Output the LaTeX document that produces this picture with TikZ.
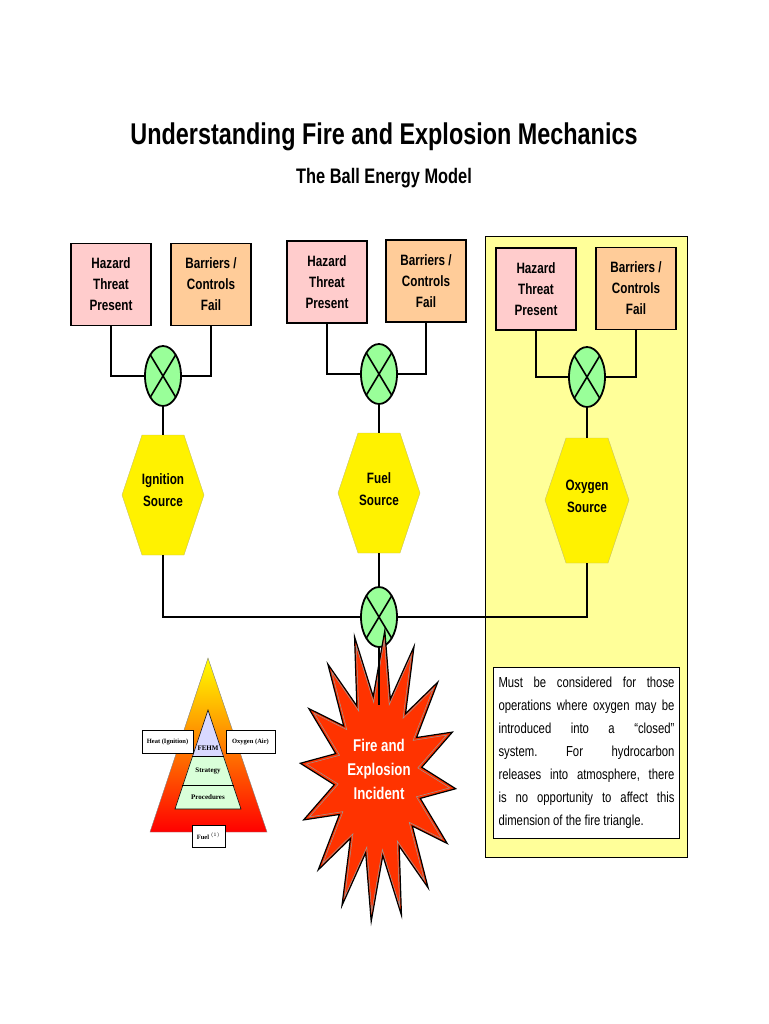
\documentclass[tikz,border=0pt]{standalone}
\usepackage{fontspec}
\setmainfont{Liberation Sans}
\newfontfamily\nar{Liberation Sans}[FakeStretch=0.78]
\newfontfamily\serifsmall{Liberation Serif}
\usetikzlibrary{shapes.geometric}
\definecolor{haz}{HTML}{FFCCCC}
\definecolor{bar}{HTML}{FFCC99}
\definecolor{gate}{HTML}{99FF99}
\definecolor{panel}{HTML}{FFFF99}
\definecolor{fire}{HTML}{FF3300}
\newcommand{\jl}[1]{\hbox to 176pt{#1}}
\begin{document}
\begin{tikzpicture}[x=1pt,y=-1pt,
  box/.style={draw,line width=1.6pt,minimum width=80pt,minimum height=82pt,align=center,font=\nar\bfseries\fontsize{15}{21}\selectfont,inner sep=1pt},
  hz/.style={box,fill=haz},
  br/.style={box,fill=bar},
  gt/.style={draw,line width=1.8pt,fill=gate,ellipse,minimum width=36pt,minimum height=60pt,inner sep=0pt,
    path picture={\draw[line width=1.6pt] (path picture bounding box.north west)--(path picture bounding box.south east) (path picture bounding box.north east)--(path picture bounding box.south west);}},
  ht/.style={font=\nar\bfseries\fontsize{15}{22}\selectfont,align=center},
  hexs/.style={draw=gray!50!yellow,fill=yellow},
  wire/.style={line width=1.6pt},
  lbl/.style={draw,fill=white,font=\serifsmall\bfseries\fontsize{6.5}{7}\selectfont,inner sep=1.5pt},
  tri/.style={font=\serifsmall\bfseries\fontsize{7}{8}\selectfont}
]
\useasboundingbox (0,0) rectangle (768,1024);
\node[font=\nar\bfseries\fontsize{30}{36}\selectfont] (title) at (384,137) {Understanding Fire and Explosion Mechanics};
\node[font=\nar\bfseries\fontsize{21}{26}\selectfont] (sub) at (384,178) {The Ball Energy Model};
\node[draw,fill=panel,minimum width=202pt,minimum height=621pt,inner sep=0pt] (panel) at (586,546.5) {};
% boxes
\node[hz] (h1) at (111,284.5) {Hazard\\Threat\\Present};
\node[br] (b1) at (211,284.5) {Barriers /\\Controls\\Fail};
\node[hz] (h2) at (327,282) {Hazard\\Threat\\Present};
\node[br] (b2) at (426,281) {Barriers /\\Controls\\Fail};
\node[hz] (h3) at (536,289) {Hazard\\Threat\\Present};
\node[br] (b3) at (636,288.5) {Barriers /\\Controls\\Fail};
% gates
\node[gt] (g1) at (163,376) {};
\node[gt] (g2) at (379,374) {};
\node[gt] (g3) at (587,377) {};
\node[gt] (g4) at (379,617) {};
% hexagons
\draw[hexs] (122,495) -- (142,435) -- (184,435) -- (204,495) -- (184,555) -- (142,555) -- cycle;
\node[ht] (s1) at (163,490) {Ignition\\Source};
\draw[hexs] (338,493) -- (358,433) -- (400,433) -- (420,493) -- (400,553) -- (358,553) -- cycle;
\node[ht] (s2) at (379,489) {Fuel\\Source};
\draw[hexs] (545,500) -- (566,438) -- (608,438) -- (629,500) -- (608,563) -- (566,563) -- cycle;
\node[ht] (s3) at (587,496) {Oxygen\\Source};
\coordinate (s1t) at (163,435); \coordinate (s1b) at (163,555);
\coordinate (s2t) at (379,433); \coordinate (s2b) at (379,553);
\coordinate (s3t) at (587,438); \coordinate (s3b) at (587,563);
% wires
\draw[wire] (h1.south) |- (g1.west);
\draw[wire] (b1.south) |- (g1.east);
\draw[wire] (h2.south) |- (g2.west);
\draw[wire] (b2.south) |- (g2.east);
\draw[wire] (h3.south) |- (g3.west);
\draw[wire] (b3.south) |- (g3.east);
\draw[wire] (g1.south) -- (s1t);
\draw[wire] (g2.south) -- (s2t);
\draw[wire] (g3.south) -- (s3t);
\draw[wire] (s1b) |- (g4.west);
\draw[wire] (s2b) -- (g4.north);
\draw[wire] (s3b) |- (g4.east);
% star
\draw[line width=1.2pt,fill=fire,line join=miter]
  plot[samples at={0,...,31},variable=\k]
  ({378+(mod(\k,2)==0 ? 78 : 44)*sin(\k*11.25+5)},{776-(mod(\k,2)==0 ? 146 : 80)*cos(\k*11.25+5)}) -- cycle;
\draw[line width=0.5pt,white!60!black]
  plot[samples at={0,...,31},variable=\k]
  ({378+(mod(\k,2)==0 ? 72 : 40)*sin(\k*11.25+5)},{776-(mod(\k,2)==0 ? 136 : 74)*cos(\k*11.25+5)}) -- cycle;
\coordinate (sin) at (379,705);
\draw[wire] (g4.south) -- (sin);
\node[text=white,font=\nar\bfseries\fontsize{17}{24}\selectfont,align=center] (fire) at (379,769) {Fire and\\Explosion\\Incident};
% triangle
\shade[top color=yellow,bottom color=red,middle color=orange] (208,658) -- (267,832) -- (150,832) -- cycle;
\draw[gray,line width=0.4pt] (208,658) -- (267,832) -- (150,832) -- cycle;
\fill[blue!15] (208,710) -- (223.6,756) -- (192.4,756) -- cycle;
\fill[green!15] (192.4,756) -- (223.6,756) -- (241,809) -- (175,809) -- cycle;
\draw[line width=0.6pt] (208,710) -- (241,809) -- (175,809) -- cycle;
\draw[line width=0.6pt] (192.4,756) -- (223.6,756) (182.4,785) -- (233.6,785);
\node[tri] (fehm) at (208,748) {FEHM};
\node[tri] (strat) at (208,771) {Strategy};
\node[tri] (proc) at (208,797) {Procedures};
\node[lbl,minimum width=51pt,minimum height=23pt] (heat) at (167.5,741.5) {Heat (Ignition)};
\node[lbl,minimum width=49pt,minimum height=23pt] (oxy) at (250.5,741.5) {Oxygen (Air)};
\node[lbl,minimum width=33pt,minimum height=22pt] (fuel) at (208.5,836) {Fuel $^{(1)}$};
% text box
\node[draw,fill=white,inner xsep=5pt,inner ysep=10pt,font=\nar\fontsize{14.5}{23}\selectfont] (note) at (586.5,752.5) {%
\vbox{\baselineskip=23pt
\jl{Must\hfill be\hfill considered\hfill for\hfill those}
\jl{operations\hfill where\hfill oxygen\hfill may\hfill be}
\jl{introduced\hfill into\hfill a\hfill “closed”}
\jl{system.\hfill For\hfill hydrocarbon}
\jl{releases\hfill into\hfill atmosphere,\hfill there}
\jl{is\hfill no\hfill opportunity\hfill to\hfill affect\hfill this}
\jl{dimension of the fire triangle.\hfill}}};
\end{tikzpicture}
\end{document}
